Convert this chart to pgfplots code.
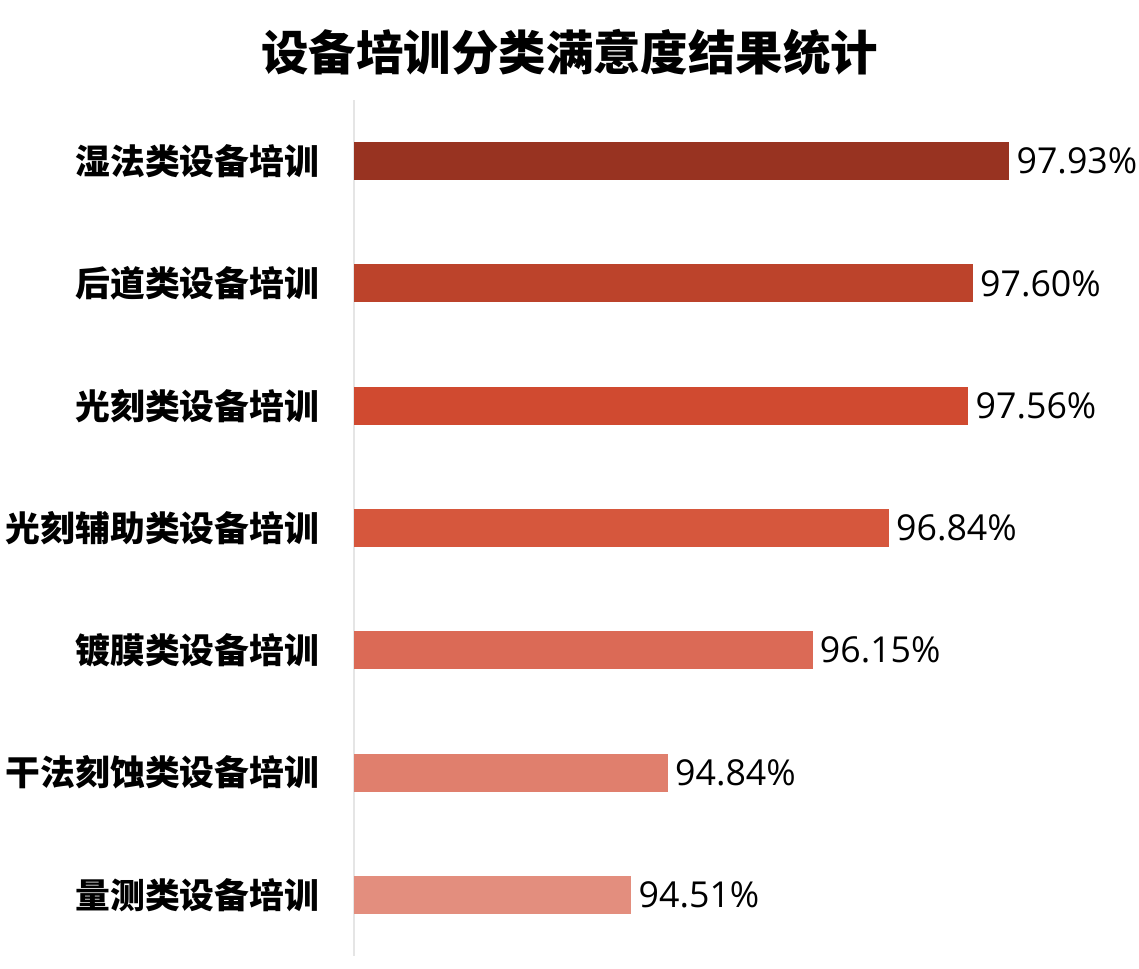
\documentclass[border=0pt]{standalone}
\usepackage{pgfplots}
\pgfplotsset{compat=1.18}
\usepackage{fontspec}
\setmainfont{Noto Sans CJK SC}
\newfontfamily\numfont{Open Sans}
\definecolor{c1}{HTML}{983321}
\definecolor{c2}{HTML}{BC432B}
\definecolor{c3}{HTML}{D04A30}
\definecolor{c4}{HTML}{D6573D}
\definecolor{c5}{HTML}{DB6A56}
\definecolor{c6}{HTML}{E07F6D}
\definecolor{c7}{HTML}{E38E7E}
\begin{document}
\begin{tikzpicture}[x=1pt,y=1pt]
\useasboundingbox (0,0) rectangle (854.25,726);
\node[font=\bfseries\fontsize{35.6}{40}\selectfont] at (427.3,687) {设备培训分类满意度结果统计};
\begin{axis}[
  at={(265.5pt,9pt)}, anchor=south west,
  scale only axis, width=538.7pt, height=642pt,
  xmin=92, xmax=98.5, ymin=-0.5, ymax=6.5,
  xbar, bar width=28.5pt, bar shift=0pt,
  axis x line=none,
  axis y line=left,
  y axis line style={draw=black!10,-, line width=1pt},
  ytick={0,1,2,3,4,5,6},
  yticklabels={量测类设备培训,干法刻蚀类设备培训,镀膜类设备培训,光刻辅助类设备培训,光刻类设备培训,后道类设备培训,湿法类设备培训},
  major tick length=0pt,
  yticklabel style={font=\bfseries\fontsize{26.1}{30}\selectfont, inner sep=0pt, xshift=-26pt},
  /pgf/number format/assume math mode=true,
  nodes near coords={\pgfmathprintnumber[fixed,fixed zerofill,precision=2,assume math mode=true]{\pgfplotspointmeta}\%},
  every node near coord/.append style={font=\numfont\fontsize{26.8}{30}\selectfont, anchor=west, inner sep=0pt, xshift=5.3pt},
  clip=false,
]
\addplot[fill=c7, draw=none] coordinates {(94.51,0)};
\addplot[fill=c6, draw=none] coordinates {(94.84,1)};
\addplot[fill=c5, draw=none] coordinates {(96.15,2)};
\addplot[fill=c4, draw=none] coordinates {(96.84,3)};
\addplot[fill=c3, draw=none] coordinates {(97.56,4)};
\addplot[fill=c2, draw=none] coordinates {(97.60,5)};
\addplot[fill=c1, draw=none] coordinates {(97.93,6)};
\end{axis}
\end{tikzpicture}
\end{document}
